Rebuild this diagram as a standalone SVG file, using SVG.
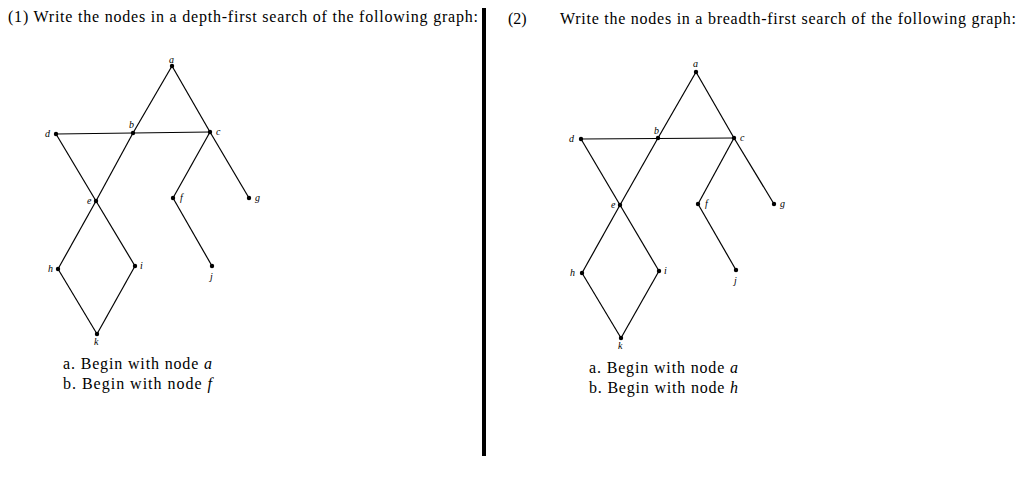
<svg xmlns="http://www.w3.org/2000/svg" width="1024" height="480" viewBox="0 0 1024 480">
<style>
.t{font-family:"Liberation Serif",serif;font-size:16px;fill:#000}
.l{font-family:"Liberation Serif",serif;font-size:10px;font-style:italic;fill:#000}
.e line{stroke:#000;stroke-width:1.2}
circle{fill:#000}
</style>
<rect width="1024" height="480" fill="#fff"/>
<text class="t" x="8" y="22" textLength="470" lengthAdjust="spacing">(1) Write the nodes in a depth-first search of the following graph:</text>
<text class="t" x="508" y="24">(2)</text>
<text class="t" x="560" y="24" textLength="456" lengthAdjust="spacing">Write the nodes in a breadth-first search of the following graph:</text>
<line x1="484" y1="8" x2="484" y2="456" stroke="#000" stroke-width="4"/>
<g id="edges1" class="e">
<line x1="172" y1="66" x2="133" y2="133"/><line x1="172" y1="66" x2="210" y2="132"/>
<line x1="56" y1="134" x2="210" y2="132"/><line x1="133" y1="133" x2="96" y2="201"/>
<line x1="56" y1="134" x2="96" y2="201"/><line x1="210" y1="132" x2="173" y2="198"/>
<line x1="210" y1="132" x2="249" y2="198"/><line x1="96" y1="201" x2="58" y2="269"/>
<line x1="96" y1="201" x2="135" y2="266"/><line x1="173" y1="198" x2="212" y2="266"/>
<line x1="58" y1="269" x2="97" y2="334"/><line x1="135" y1="266" x2="97" y2="334"/>
</g>
<g id="nodes1">
<g id="a1"><circle cx="172" cy="66" r="2.2"/><text class="l" x="169" y="63">a</text></g>
<g id="b1"><circle cx="133" cy="133" r="2.2"/><text class="l" x="129" y="128">b</text></g>
<g id="c1"><circle cx="210" cy="132" r="2.2"/><text class="l" x="216" y="135">c</text></g>
<g id="d1"><circle cx="56" cy="134" r="2.2"/><text class="l" x="45" y="137">d</text></g>
<g id="e1"><circle cx="96" cy="201" r="2.2"/><text class="l" x="87" y="204">e</text></g>
<g id="f1"><circle cx="173" cy="198" r="2.2"/><text class="l" x="180" y="201">f</text></g>
<g id="g1"><circle cx="249" cy="198" r="2.2"/><text class="l" x="255" y="201">g</text></g>
<g id="h1"><circle cx="58" cy="269" r="2.2"/><text class="l" x="48" y="272">h</text></g>
<g id="i1"><circle cx="135" cy="266" r="2.2"/><text class="l" x="140" y="269">i</text></g>
<g id="j1"><circle cx="212" cy="266" r="2.2"/><text class="l" x="210" y="280">j</text></g>
<g id="k1"><circle cx="97" cy="334" r="2.2"/><text class="l" x="94" y="345">k</text></g>
</g>
<g id="edges2" class="e">
<line x1="696" y1="72" x2="658" y2="138"/><line x1="696" y1="72" x2="734" y2="138"/>
<line x1="581" y1="139" x2="734" y2="138"/><line x1="658" y1="138" x2="620" y2="205"/>
<line x1="581" y1="139" x2="620" y2="205"/><line x1="734" y1="138" x2="698" y2="204"/>
<line x1="734" y1="138" x2="774" y2="204"/><line x1="620" y1="205" x2="582" y2="273"/>
<line x1="620" y1="205" x2="659" y2="271"/><line x1="698" y1="204" x2="736" y2="270"/>
<line x1="582" y1="273" x2="621" y2="338"/><line x1="659" y1="271" x2="621" y2="338"/>
</g>
<g id="nodes2">
<g id="a2"><circle cx="696" cy="72" r="2.2"/><text class="l" x="693" y="67">a</text></g>
<g id="b2"><circle cx="658" cy="138" r="2.2"/><text class="l" x="654" y="134">b</text></g>
<g id="c2"><circle cx="734" cy="138" r="2.2"/><text class="l" x="740" y="141">c</text></g>
<g id="d2"><circle cx="581" cy="139" r="2.2"/><text class="l" x="569" y="142">d</text></g>
<g id="e2"><circle cx="620" cy="205" r="2.2"/><text class="l" x="611" y="208">e</text></g>
<g id="f2"><circle cx="698" cy="204" r="2.2"/><text class="l" x="705" y="207">f</text></g>
<g id="g2"><circle cx="774" cy="204" r="2.2"/><text class="l" x="780" y="207">g</text></g>
<g id="h2"><circle cx="582" cy="273" r="2.2"/><text class="l" x="570" y="276">h</text></g>
<g id="i2"><circle cx="659" cy="271" r="2.2"/><text class="l" x="664" y="274">i</text></g>
<g id="j2"><circle cx="736" cy="270" r="2.2"/><text class="l" x="734" y="284">j</text></g>
<g id="k2"><circle cx="621" cy="338" r="2.2"/><text class="l" x="618" y="349">k</text></g>
</g>
<text class="t" x="63" y="369" textLength="149" lengthAdjust="spacing">a. Begin with node <tspan font-style="italic">a</tspan></text>
<text class="t" x="63" y="389" textLength="149" lengthAdjust="spacing">b. Begin with node <tspan font-style="italic">f</tspan></text>
<text class="t" x="589" y="373" textLength="149" lengthAdjust="spacing">a. Begin with node <tspan font-style="italic">a</tspan></text>
<text class="t" x="589" y="393" textLength="149" lengthAdjust="spacing">b. Begin with node <tspan font-style="italic">h</tspan></text>
</svg>
